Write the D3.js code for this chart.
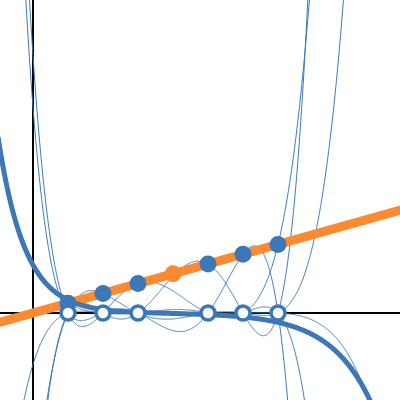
<!DOCTYPE html>
<html><head><meta charset="utf-8">
<script src="https://cdn.jsdelivr.net/npm/d3@7"></script>
<style>body{margin:0;background:#fff}</style>
</head><body>
<svg id="c" width="400" height="400"></svg>
<script>
// nodes and values
const nodeX = [1, 2, 3, 5, 6, 7];
const nodeY = [1, 2, 3, 5, 6, 7];
const evalX = 4, evalY = 4;
// thick curve shape: left rise and right fall
const leftAmp = 4.9, leftRate = 1.3;
const rightAmp = 4.3, rightRate = 0.85, rightAt = 8.77;

const x = d3.scaleLinear().domain([-33 / 35, 367 / 35]).range([0, 400]);
const y = d3.scaleLinear().domain([-87 / 9.8, 313 / 9.8]).range([400, 0]);
const svg = d3.select("#c");

// axes
svg.append("line").attr("x1", x(0)).attr("x2", x(0)).attr("y1", 0).attr("y2", 400)
  .attr("stroke", "#000").attr("stroke-width", 2);
svg.append("line").attr("x1", 0).attr("x2", 400).attr("y1", y(0)).attr("y2", y(0))
  .attr("stroke", "#000").attr("stroke-width", 2);

const xs = d3.range(-1, 10.6, 0.01);
const line = d3.line().x(d => x(d[0])).y(d => Math.max(-2000, Math.min(2000, y(d[1]))));

function basis(i, t) {
  let p = 1;
  nodeX.forEach((xj, j) => { if (j !== i) p *= (t - xj) / (nodeX[i] - xj); });
  return p;
}

// thin basis curves
nodeX.forEach((xi, i) => {
  svg.append("path").datum(xs.map(t => [t, nodeY[i] * basis(i, t)]))
    .attr("d", line).attr("fill", "none").attr("stroke", "#3c78b8").attr("stroke-width", 1);
});

// orange line
svg.append("path").datum(xs.map(t => [t, t])).attr("d", line)
  .attr("fill", "none").attr("stroke", "#fb8a30").attr("stroke-width", 9);

// thick curve
const thick = t => leftAmp * Math.exp(-leftRate * t) - rightAmp * Math.exp(rightRate * (t - rightAt));
svg.append("path").datum(xs.map(t => [t, thick(t)]))
  .attr("d", line).attr("fill", "none").attr("stroke", "#3c78b8").attr("stroke-width", 5);

// points
svg.selectAll(".f").data(nodeX).join("circle")
  .attr("cx", d => x(d)).attr("cy", (d, i) => y(nodeY[i])).attr("r", 8.5).attr("fill", "#3c78b8");
svg.append("circle").attr("cx", x(evalX)).attr("cy", y(evalY)).attr("r", 8.5).attr("fill", "#fb8a30");
svg.selectAll(".h").data(nodeX).join("circle")
  .attr("cx", d => x(d)).attr("cy", y(0)).attr("r", 7)
  .attr("fill", "#fff").attr("stroke", "#3c78b8").attr("stroke-width", 3.5);
</script>
</body></html>
